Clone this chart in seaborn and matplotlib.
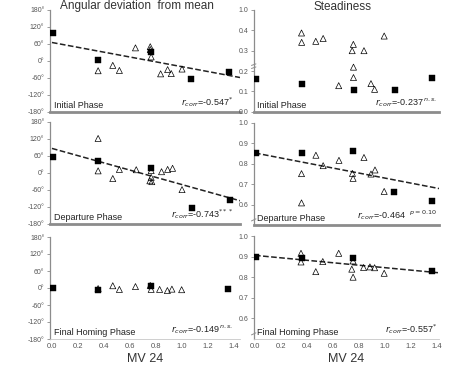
import numpy as np
import pandas as pd
import seaborn as sns
import matplotlib.pyplot as plt

sns.set_theme(style="ticks")
plt.rcParams["font.family"] = ["Liberation Sans", "DejaVu Sans"]

# MV 24 values and responses.
# kind: "sq" = filled squares, "tri" = open triangles
init_mv = [0.005, 0.356, 0.356, 0.469, 0.52, 0.644, 0.758, 0.758, 0.765, 0.765,
           0.838, 0.892, 0.92, 1.003, 1.07, 1.366]
init_kind = ["sq", "sq", "tri", "tri", "tri", "tri", "tri", "tri", "sq", "tri",
             "tri", "tri", "tri", "tri", "sq", "sq"]
init_angle = [97, 2, -35, -16, -34, 46, 50, 40, 32, 14, -46, -31, -45, -29, -66, -40]

dep_mv = [0.005, 0.356, 0.356, 0.356, 0.469, 0.52, 0.65, 0.765, 0.765, 0.765,
          0.755, 0.77, 0.845, 0.892, 0.93, 1.003, 1.08, 1.37]
dep_kind = ["sq", "tri", "sq", "tri", "tri", "tri", "tri", "sq", "tri", "tri",
            "tri", "tri", "tri", "tri", "tri", "tri", "sq", "sq"]
dep_angle = [56, 121, 42, 7, -20, 12, 11, 16, 8, -16, -28, -31, 4, 12, 16, -59, -125, -96]

home_mv = [0.005, 0.356, 0.356, 0.469, 0.52, 0.644, 0.758, 0.765, 0.765, 0.83,
           0.89, 0.925, 1.0, 1.36]
home_kind = ["sq", "sq", "tri", "tri", "tri", "tri", "tri", "sq", "tri", "tri",
             "tri", "tri", "tri", "sq"]
home_angle = [1, -6, -2, 8, -5, 5, 9, 7, -5, -5, -9, -4, -6, -2]

init_st_mv = [0.008, 0.359, 0.36, 0.36, 0.469, 0.526, 0.646, 0.759, 0.75, 0.76,
              0.76, 0.763, 0.841, 0.895, 0.923, 0.997, 1.077, 1.364]
init_st_kind = ["sq", "tri", "tri", "sq", "tri", "tri", "tri", "tri", "tri", "tri",
                "tri", "sq", "tri", "tri", "tri", "tri", "sq", "sq"]
init_steady = [0.16, 0.387, 0.341, 0.138, 0.346, 0.36, 0.128, 0.331, 0.30, 0.219,
               0.168, 0.109, 0.30, 0.138, 0.11, 0.372, 0.109, 0.168]

dep_st_mv = [0.008, 0.359, 0.359, 0.359, 0.47, 0.526, 0.648, 0.757, 0.752, 0.757,
             0.841, 0.895, 0.926, 0.997, 1.074, 1.364]
dep_st_kind = ["sq", "sq", "tri", "tri", "tri", "tri", "tri", "sq", "tri", "tri",
               "tri", "tri", "tri", "tri", "sq", "sq"]
dep_steady = [0.851, 0.851, 0.751, 0.608, 0.841, 0.79, 0.816, 0.861, 0.752, 0.728,
              0.83, 0.749, 0.769, 0.664, 0.661, 0.618]

home_st_mv = [0.008, 0.355, 0.36, 0.355, 0.469, 0.523, 0.646, 0.76, 0.757, 0.747,
              0.757, 0.838, 0.887, 0.923, 0.997, 1.364]
home_st_kind = ["sq", "tri", "sq", "tri", "tri", "tri", "tri", "sq", "tri", "tri",
                "tri", "tri", "tri", "tri", "tri", "sq"]
home_steady = [0.90, 0.916, 0.895, 0.874, 0.827, 0.876, 0.916, 0.895, 0.879, 0.839,
               0.80, 0.847, 0.85, 0.846, 0.819, 0.828]

# dashed fit lines (intercept, slope); None = no line drawn
fits = [(65, -85.5), None, (86, -127), (0.852, -0.1224), None, (0.906, -0.0596)]

phases = ["Initial Phase", "Departure Phase", "Final Homing Phase"]
r_texts = [r"$r_{corr}$=-0.547$^{*}$", r"$r_{corr}$=-0.237$^{\,n.s.}$",
           r"$r_{corr}$=-0.743$^{***}$", r"$r_{corr}$=-0.464  $^{p=0.10}$",
           r"$r_{corr}$=-0.149$^{\,n.s.}$", r"$r_{corr}$=-0.557$^{*}$"]

angle_ticks = [-180, -120, -60, 0, 60, 120, 180]
x_ticks = [0.0, 0.2, 0.4, 0.6, 0.8, 1.0, 1.2, 1.4]

panels = [
    (init_mv, init_angle, init_kind), (init_st_mv, init_steady, init_st_kind),
    (dep_mv, dep_angle, dep_kind), (dep_st_mv, dep_steady, dep_st_kind),
    (home_mv, home_angle, home_kind), (home_st_mv, home_steady, home_st_kind),
]

W, H = 474, 366
fig = plt.figure(figsize=(W / 100, H / 100), dpi=100)

# pixel boxes (left, top, right, bottom)
boxes = [
    (50, 10, 240, 111.7), (253.7, 10, 439, 111.7),
    (50, 121.7, 240, 224), (253.7, 122.7, 439, 225),
    (50, 237, 240, 339), (253.7, 236, 439, 339),
]

gray = "#8c8c8c"
txt = "#333333"

for i, (box, (mv, val, kind)) in enumerate(zip(boxes, panels)):
    l, t, r, b = box
    ax = fig.add_axes([l / W, 1 - b / H, (r - l) / W, (b - t) / H])
    df = pd.DataFrame({"mv": mv, "val": val, "kind": kind})
    left_col = i % 2 == 0
    row = i // 2

    sq = df[df["kind"] == "sq"]
    tri = df[df["kind"] == "tri"]
    sns.scatterplot(data=tri, x="mv", y="val", ax=ax, marker="^", s=19,
                    facecolor="none", edgecolor="black", linewidth=0.5, zorder=3)
    sns.scatterplot(data=sq, x="mv", y="val", ax=ax, marker="s", s=17,
                    color="black", edgecolor="black", linewidth=0.3, zorder=4)

    if fits[i] is not None:
        a, k = fits[i]
        xs = np.array([0.0, 1.45 if left_col else 1.42])
        sns.lineplot(x=xs, y=a + k * xs, ax=ax, color="#222222", lw=1.1,
                     dashes=(3, 2), linestyle="--", zorder=2)

    if left_col:
        ax.set_xlim(-0.015, 1.45)
        ax.set_ylim(-180, 180)
        ax.set_yticks(angle_ticks)
        ax.set_yticklabels([f"{v}\u00b0" for v in angle_ticks])
    else:
        ax.set_xlim(-0.01, 1.42)
        if row == 0:
            ax.set_ylim(0, 0.5)
            ax.set_yticks([0.0, 0.1, 0.2, 0.3, 0.4, 0.5])
            ax.set_yticklabels(["0.0", "0.1", "0.2", "0.3", "0.4", "1.0"])
            # axis break mark
            ax.plot([-0.012, 0.012], [0.455, 0.47], transform=ax.transAxes,
                    color=gray, lw=0.7, clip_on=False)
            ax.plot([-0.012, 0.012], [0.425, 0.44], transform=ax.transAxes,
                    color=gray, lw=0.7, clip_on=False)
        else:
            ax.set_ylim(0.5, 1.0)
            ax.set_yticks([0.6, 0.7, 0.8, 0.9, 1.0])
            ax.set_yticklabels(["0.6", "0.7", "0.8", "0.9", "1.0"])
            ax.plot([-0.012, 0.012], [0.04, 0.06], transform=ax.transAxes,
                    color=gray, lw=0.7, clip_on=False)

    ax.set_xticks(x_ticks)
    if row == 2:
        ax.set_xticklabels([f"{v:.1f}" for v in x_ticks])
        ax.set_xlabel("MV 24", fontsize=9, color=txt, labelpad=2)
        ax.spines["bottom"].set_color("#c8c8c8")
        ax.spines["bottom"].set_linewidth(0.6)
        ax.tick_params(axis="x", length=0, labelsize=5.5, labelcolor="#555555", pad=3)
    else:
        ax.set_xticklabels([])
        ax.set_xlabel("")
        ax.spines["bottom"].set_color(gray)
        ax.spines["bottom"].set_linewidth(2.0)
        ax.tick_params(axis="x", length=0)

    ax.set_ylabel("")
    ax.spines["top"].set_visible(False)
    ax.spines["right"].set_visible(False)
    ax.spines["left"].set_color(gray)
    ax.spines["left"].set_linewidth(0.9)
    ax.tick_params(axis="y", length=2, width=0.6, color=gray, labelsize=5,
                   labelcolor="#555555", pad=2)

    ax.text(0.02, 0.02, phases[row], transform=ax.transAxes, fontsize=6.5,
            color="#222222", ha="left", va="bottom")
    ax.text(0.965 if left_col else 0.99, 0.03, r_texts[i], transform=ax.transAxes,
            fontsize=6.5, color="#222222", ha="right", va="bottom")

    if row == 0:
        fig.text((l + r) / 2 / W - (0.016 if left_col else 0.008), 1 - 0.5 / H,
                 "Angular deviation  from mean" if left_col else "Steadiness",
                 fontsize=8.5, color=txt, ha="center", va="top")

fig.savefig("out.png", dpi=100)
